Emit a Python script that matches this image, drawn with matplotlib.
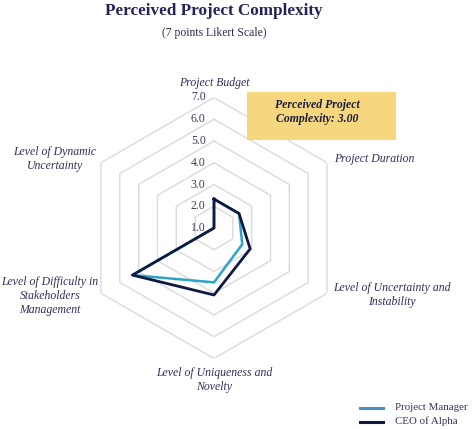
import matplotlib.pyplot as plt
import numpy as np

# radar values on a 1-7 Likert scale (clockwise from top)
categories = [
    "Project Budget",
    "Project Duration",
    "Level of Uncertainty and\nInstability",
    "Level of Uniqueness and\nNovelty",
    "Level of Difficulty in\nStakeholders\nManagement",
    "Level of Dynamic\nUncertainty",
]
project_manager = [2.33, 2.33, 2.5, 3.5, 5.33, 1.0]
ceo_alpha = [2.33, 2.33, 2.92, 4.08, 5.33, 1.0]
rings = [1, 2, 3, 4, 5, 6, 7]
ring_labels = ["1.0", "2.0", "3.0", "4.0", "5.0", "6.0", "7.0"]
complexity_score = 3.00

plt.rcParams["font.family"] = ["Liberation Serif", "DejaVu Serif"]

W, H = 474, 429
fig = plt.figure(figsize=(W / 100, H / 100), dpi=100)

cx, cy, R = 214, 228, 130.5
ax = fig.add_axes([(cx - R) / W, (H - cy - R) / H, 2 * R / W, 2 * R / H],
                  projection="polar")
ax.set_theta_offset(np.pi / 2)
ax.set_theta_direction(-1)
ax.set_ylim(1, 7)
ax.set_xticks([])
ax.set_yticks([])
ax.spines["polar"].set_visible(False)
ax.grid(False)
ax.patch.set_alpha(0)

n = len(categories)
angles = np.linspace(0, 2 * np.pi, n, endpoint=False)
closed = np.append(angles, angles[0])

# hexagonal grid
for r in rings[1:]:
    ax.plot(closed, [r] * (n + 1), color="#dadada", lw=1.0, zorder=1)

for r, lab in zip(rings, ring_labels):
    ax.annotate(lab, xy=(0, r), xytext=(-6, 0), textcoords="offset points",
                ha="right", va="center", fontsize=8.5, color="#3b3b5c")

pm_c = np.append(project_manager, project_manager[0])
ceo_c = np.append(ceo_alpha, ceo_alpha[0])
ax.plot(closed, pm_c, color="#2ea3c8", lw=1.8, zorder=3)
ax.plot(closed, ceo_c, color="#0e1a45", lw=2.0, zorder=4)

# category labels (pixel positions from top-left)
label_pos = [(214, 83, "center"), (334, 159, "left"), (392, 295, "center"),
             (214, 380, "center"), (50, 296, "center"), (55, 159, "center")]
for lab, (x, y, ha) in zip(categories, label_pos):
    fig.text(x / W, 1 - y / H, lab, ha=ha, va="center", fontsize=8.5,
             style="italic", color="#2f2f5e", linespacing=1.2)

fig.text(214 / W, 1 - 11 / H, "Perceived Project Complexity", ha="center",
         va="center", fontsize=12.3, fontweight="bold", color="#23235b")
fig.text(214 / W, 1 - 33 / H, "(7 points Likert Scale)", ha="center",
         va="center", fontsize=8.4, color="#2b2b4b")

# score box
fig.patches.append(plt.Rectangle((247 / W, 1 - 140 / H), 149 / W, 48 / H,
                                 transform=fig.transFigure,
                                 facecolor="#f6d77e", edgecolor="none"))
fig.text(317 / W, 1 - 112 / H,
         f"Perceived Project\nComplexity: {complexity_score:.2f}",
         ha="center", va="center", fontsize=8.5, fontweight="bold",
         style="italic", color="#1a1a3a", linespacing=1.15)

# legend
for yy, col, lab in [(408, "#4a8fc9", "Project Manager"),
                     (422, "#0e1a45", "CEO of Alpha")]:
    fig.add_artist(plt.Line2D([360 / W, 383 / W], [1 - yy / H, 1 - yy / H],
                              color=col, lw=2.2, transform=fig.transFigure))
    fig.text(395 / W, 1 - (yy - 1) / H, lab, ha="left", va="center",
             fontsize=7.8, color="#333355")

fig.savefig("out.png", dpi=100)
